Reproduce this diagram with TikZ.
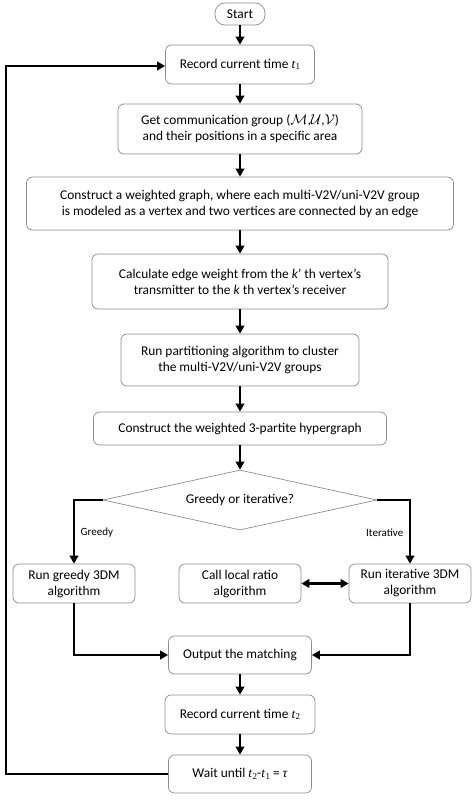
\documentclass[tikz,border=0pt]{standalone}
\usepackage{fontspec}
\setmainfont{Carlito}
\newfontfamily\tms{Liberation Serif}
\usetikzlibrary{arrows.meta,shapes.geometric}
\newcommand{\tvar}[1]{{\tms\itshape t}\kern0.5pt\raisebox{-0.25ex}{\tms\fontsize{9}{10}\selectfont #1}}
\tikzset{
  stepbox/.style={draw=black!45, line width=0.7pt, rounded corners=6pt, align=center,
    inner sep=2pt, font=\fontsize{13.4}{16}\selectfont, fill=white},
  conn/.style={line width=2.8pt, -{Triangle[length=8pt,width=8.5pt]}},
  biconn/.style={line width=2.8pt, {Triangle[length=8pt,width=8.5pt]}-{Triangle[length=8pt,width=8.5pt]}},
  lab/.style={font=\fontsize{11}{13}\selectfont}
}
\begin{document}
\begin{tikzpicture}[x=1pt,y=-1pt]
\useasboundingbox (0,0) rectangle (474,801);
\node[stepbox, rounded corners=10pt, minimum width=50pt, minimum height=22pt] (start) at (240,14) {Start};
\node[stepbox, minimum width=149pt, minimum height=39pt] (rec1) at (240,64.5) {Record current time \tvar{1}};
\node[stepbox, minimum width=244pt, minimum height=50pt] (get) at (240,129) {Get communication group ($\mathcal{M}$,$\mathcal{U}$,$\mathcal{V}$)\\and their positions in a specific area};
\node[stepbox, minimum width=427pt, minimum height=53pt] (graph) at (240,203.5) {Construct a weighted graph, where each multi-V2V/uni-V2V group\\is modeled as a vertex and two vertices are connected by an edge};
\node[stepbox, minimum width=296pt, minimum height=55pt] (calc) at (240,281.5) {Calculate edge weight from the \textit{k}’ th vertex’s\\transmitter to the \textit{k} th vertex’s receiver};
\node[stepbox, minimum width=238pt, minimum height=52pt] (part) at (240,360) {Run partitioning algorithm to cluster\\the multi-V2V/uni-V2V groups};
\node[stepbox, minimum width=293pt, minimum height=33pt] (hyper) at (240,428.5) {Construct the weighted 3-partite hypergraph};
\node[draw=black!45, line width=0.7pt, diamond, shape aspect=4.57, inner sep=0pt, minimum width=274pt, minimum height=60pt, font=\fontsize{13.4}{16}\selectfont] (dec) at (240,500) {Greedy or iterative?};
\node[stepbox, minimum width=122pt, minimum height=39pt] (greedy) at (74,583.5) {Run greedy 3DM\\algorithm};
\node[stepbox, minimum width=122pt, minimum height=39pt] (local) at (240,583.5) {Call local ratio\\algorithm};
\node[stepbox, minimum width=122pt, minimum height=39pt] (iter) at (410,583.5) {Run iterative 3DM\\algorithm};
\node[stepbox, minimum width=143pt, minimum height=38pt] (out) at (240,655) {Output the matching};
\node[stepbox, minimum width=150pt, minimum height=39pt] (rec2) at (240,714.5) {Record current time \tvar{2}};
\node[stepbox, minimum width=143pt, minimum height=38pt] (wait) at (240,774) {Wait until \tvar{2}-\tvar{1} = {\tms\itshape τ}};
\coordinate (lb) at (6,774);
\coordinate (lt) at (6,66);

\draw[conn] (start) -- (rec1);
\draw[conn] (rec1) -- (get);
\draw[conn] (get) -- (graph);
\draw[conn] (graph) -- (calc);
\draw[conn] (calc) -- (part);
\draw[conn] (part) -- (hyper);
\draw[conn] (hyper) -- (dec);
\draw[conn] (dec.west) -| node[lab, pos=0.72, right, xshift=2pt, yshift=-5pt] (glab) {Greedy} (greedy.north);
\draw[conn] (dec.east) -| node[lab, pos=0.72, left, xshift=-2pt, yshift=-5pt] (ilab) {Iterative} (iter.north);
\draw[biconn] (local) -- (iter);
\draw[conn] (greedy.south) |- (out.west);
\draw[conn] (iter.south) |- (out.east);
\draw[conn] (out) -- (rec2);
\draw[conn] (rec2) -- (wait);
\draw[conn] (wait.west) -- (lb) -- (lt) -- (lt -| rec1.west);
\end{tikzpicture}
\end{document}
